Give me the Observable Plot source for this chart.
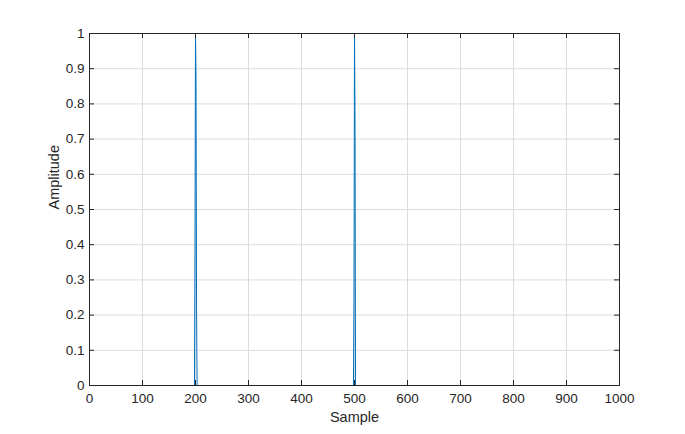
<!DOCTYPE html>
<html>
<head>
<meta charset="utf-8">
<script src="https://cdn.jsdelivr.net/npm/d3@7"></script>
<script src="https://cdn.jsdelivr.net/npm/@observablehq/plot@0.6"></script>
<style>
  html, body { margin: 0; padding: 0; background: #fff; }
  svg { display: block; }
</style>
</head>
<body>
<div id="chart"></div>
<script>
// Data
const sampleCount = 1001;               // samples 0..1000
const spikeSamples = [199, 200, 201, 202, 499, 500, 501];
const spikeValues  = [0.375, 1, 0.875, 0.22, 0.25, 1, 0.75];
const xTicks = [0, 100, 200, 300, 400, 500, 600, 700, 800, 900, 1000];
const yTicks = [0, 0.1, 0.2, 0.3, 0.4, 0.5, 0.6, 0.7, 0.8, 0.9, 1];
const xLabel = "Sample";
const yLabel = "Amplitude";

const spikeMap = new Map(spikeSamples.map((s, i) => [s, spikeValues[i]]));
const signal = d3.range(sampleCount).map(n => ({n, a: spikeMap.get(n) ?? 0}));

const W = 685, H = 434;
const mL = 89, mR = 66, mT = 33, mB = 49;
const pw = W - mL - mR, ph = H - mT - mB;
const tick = 5;
const font = "'Liberation Sans', Arial, Helvetica, sans-serif";
const grid = "#dcdcdc";
const axisColor = "#262626";

const chart = Plot.plot({
  width: W, height: H,
  marginLeft: mL, marginRight: mR, marginTop: mT, marginBottom: mB,
  style: {fontFamily: font, fontSize: "13.5px", color: axisColor, background: "#fff"},
  x: {domain: [0, 1000], ticks: xTicks},
  y: {domain: [0, 1], ticks: yTicks},
  marks: [
    Plot.ruleX(xTicks, {x: d => d, stroke: grid, strokeWidth: 1}),
    Plot.ruleY(yTicks, {y: d => d, stroke: grid, strokeWidth: 1}),
    Plot.line(signal, {x: "n", y: "a", stroke: "#0072BD", strokeWidth: 1}),
    // inward ticks
    Plot.tickX(xTicks, {x: d => d, insetTop: ph - tick, stroke: axisColor}),
    Plot.tickX(xTicks, {x: d => d, insetBottom: ph - tick, stroke: axisColor}),
    Plot.tickY(yTicks, {y: d => d, insetRight: pw - tick, stroke: axisColor}),
    Plot.tickY(yTicks, {y: d => d, insetLeft: pw - tick, stroke: axisColor}),
    Plot.frame({stroke: axisColor, strokeWidth: 1}),
    Plot.axisX({ticks: xTicks, tickSize: 0, tickPadding: 8, tickFormat: d => String(d), fill: axisColor, label: null}),
    Plot.axisY({ticks: yTicks, tickSize: 0, tickPadding: 5, tickFormat: d => String(d), fill: axisColor, label: null}),
    Plot.text([xLabel], {frameAnchor: "bottom", dy: 36, text: d => d, fill: axisColor, fontSize: 14.5}),
    Plot.text([yLabel], {frameAnchor: "left", dx: -35, rotate: -90, text: d => d, fill: axisColor, fontSize: 14.5})
  ]
});
document.getElementById("chart").appendChild(chart);
</script>
</body>
</html>
